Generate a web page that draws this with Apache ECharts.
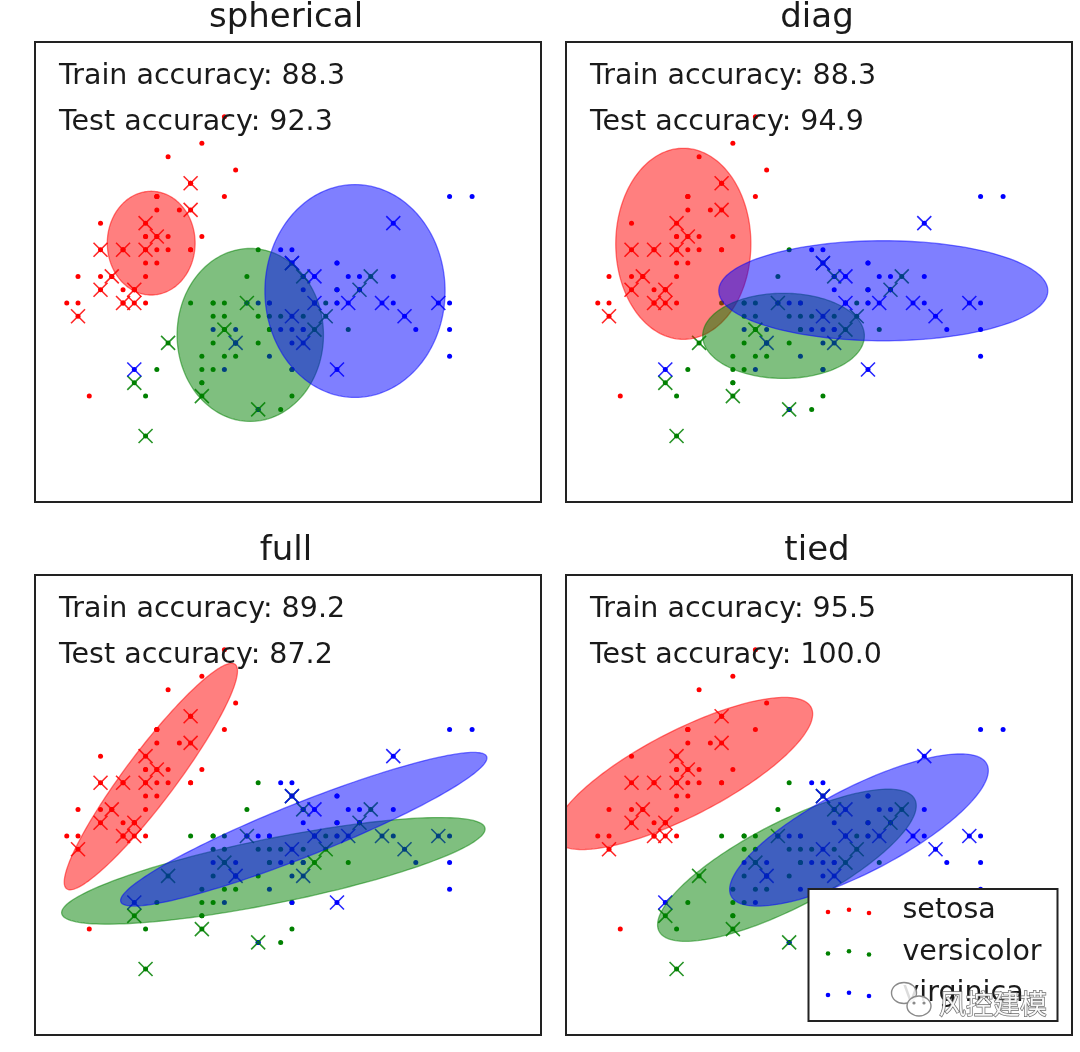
<!DOCTYPE html>
<html><head><meta charset="utf-8">
<script src="https://cdn.jsdelivr.net/npm/echarts@6/dist/echarts.min.js"></script>
<style>html,body{margin:0;padding:0;background:#fff}#chart{width:1080px;height:1052px}</style>
</head><body><div id="chart"></div>
<script>
// ---- Data (iris: sepal length, sepal width) ----
const setosa = [[5.1,3.5],[4.9,3.0],[4.7,3.2],[4.6,3.1],[5.0,3.6],[5.4,3.9],[4.6,3.4],[5.0,3.4],[4.4,2.9],[4.9,3.1],
[5.4,3.7],[4.8,3.4],[4.8,3.0],[4.3,3.0],[5.8,4.0],[5.7,4.4],[5.4,3.9],[5.1,3.5],[5.7,3.8],[5.1,3.8],
[5.4,3.4],[5.1,3.7],[4.6,3.6],[5.1,3.3],[4.8,3.4],[5.0,3.0],[5.0,3.4],[5.2,3.5],[5.2,3.4],[4.7,3.2],
[4.8,3.1],[5.4,3.4],[5.2,4.1],[5.5,4.2],[4.9,3.1],[5.0,3.2],[5.5,3.5],[4.9,3.1],[4.4,3.0],[5.1,3.4],
[5.0,3.5],[4.5,2.3],[4.4,3.2],[5.0,3.5],[5.1,3.8],[4.8,3.0],[5.1,3.8],[4.6,3.2],[5.3,3.7],[5.0,3.3]];
const versicolor = [[7.0,3.2],[6.4,3.2],[6.9,3.1],[5.5,2.3],[6.5,2.8],[5.7,2.8],[6.3,3.3],[4.9,2.4],[6.6,2.9],[5.2,2.7],
[5.0,2.0],[5.9,3.0],[6.0,2.2],[6.1,2.9],[5.6,2.9],[6.7,3.1],[5.6,3.0],[5.8,2.7],[6.2,2.2],[5.6,2.5],
[5.9,3.2],[6.1,2.8],[6.3,2.5],[6.1,2.8],[6.4,2.9],[6.6,3.0],[6.8,2.8],[6.7,3.0],[6.0,2.9],[5.7,2.6],
[5.5,2.4],[5.5,2.4],[5.8,2.7],[6.0,2.7],[5.4,3.0],[6.0,3.4],[6.7,3.1],[6.3,2.3],[5.6,3.0],[5.5,2.5],
[5.5,2.6],[6.1,3.0],[5.8,2.6],[5.0,2.3],[5.6,2.7],[5.7,3.0],[5.7,2.9],[6.2,2.9],[5.1,2.5],[5.7,2.8]];
const virginica = [[6.3,3.3],[5.8,2.7],[7.1,3.0],[6.3,2.9],[6.5,3.0],[7.6,3.0],[4.9,2.5],[7.3,2.9],[6.7,2.5],[7.2,3.6],
[6.5,3.2],[6.4,2.7],[6.8,3.0],[5.7,2.5],[5.8,2.8],[6.4,3.2],[6.5,3.0],[7.7,3.8],[7.7,2.6],[6.0,2.2],
[6.9,3.2],[5.6,2.8],[7.7,2.8],[6.3,2.7],[6.7,3.3],[7.2,3.2],[6.2,2.8],[6.1,3.0],[6.4,2.8],[7.2,3.0],
[7.4,2.8],[7.9,3.8],[6.4,2.8],[6.3,2.8],[6.1,2.6],[7.7,3.0],[6.3,3.4],[6.4,3.1],[6.0,3.0],[6.9,3.1],
[6.7,3.1],[6.9,3.1],[5.8,2.7],[6.8,3.2],[6.7,3.3],[6.7,3.0],[6.3,2.5],[6.5,3.0],[6.2,3.4],[5.9,3.0]];
// test fold = first 13 samples of each class (drawn with crosses)
const setosaTest = setosa.slice(0, 13);
const versicolorTest = versicolor.slice(0, 13);
const virginicaTest = virginica.slice(0, 13);

const classNames = ['setosa', 'versicolor', 'virginica'];
const panelTitles = ['spherical', 'diag', 'full', 'tied'];
const trainAccuracy = [88.3, 88.3, 89.2, 95.5];
const testAccuracy = [92.3, 94.9, 87.2, 100.0];

// Gaussian ellipses: [centerX, centerY, semiAxisA, semiAxisB, angleDeg, classIndex]
const sphericalEllipses = [[5.05,3.45,0.39,0.39,0,0],[5.93,2.76,0.65,0.65,0,1],[6.86,3.09,0.80,0.80,0,2]];
const diagEllipses = [[5.06,3.445,0.60,0.718,0,0],[5.95,2.753,0.718,0.32,0,1],[6.836,3.092,1.461,0.376,0,2]];
const fullEllipses = [[5.047,3.447,1.128,0.21,48.1,0],[6.135,2.738,1.907,0.245,9.65,1],[6.405,3.051,1.714,0.205,18.5,2]];
const tiedEllipses = [[5.06,3.47,1.24,0.33,23,0],[5.98,2.78,1.24,0.33,23,1],[6.62,3.045,1.24,0.33,23,2]];

const xRange = [4.018, 8.512];
const yRange = [1.504, 4.962];

// ---- Styling / layout ----
const colors = ['#ff0000', '#008000', '#0000ff'];
const fills = ['rgba(255,0,0,0.5)', 'rgba(0,128,0,0.5)', 'rgba(0,0,255,0.5)'];
const FONT = 'DejaVu Sans';
const TXT = '#1a1a1a';
const panelLeft = [35, 566, 35, 566];
const panelTop = [42, 42, 575, 575];
const PW = 506, PH = 460;

const allData = [setosa, versicolor, virginica];
const testData = [setosaTest, versicolorTest, virginicaTest];
const ellipseSets = [sphericalEllipses, diagEllipses, fullEllipses, tiedEllipses];

function renderEllipse(params, api) {
  const cx = api.value(0), cy = api.value(1), a = api.value(2), b = api.value(3);
  const ang = api.value(4) * Math.PI / 180, k = api.value(5);
  const pts = [];
  const N = 180;
  for (let i = 0; i < N; i++) {
    const t = i / N * 2 * Math.PI;
    const dx = a * Math.cos(t), dy = b * Math.sin(t);
    pts.push(api.coord([cx + dx * Math.cos(ang) - dy * Math.sin(ang), cy + dx * Math.sin(ang) + dy * Math.cos(ang)]));
  }
  const cs = params.coordSys;
  return {
    type: 'polygon',
    shape: { points: pts },
    style: { fill: fills[k], stroke: fills[k], lineWidth: 1.3 },
    clipPath: { type: 'rect', shape: { x: cs.x + 1, y: cs.y + 1, width: cs.width - 2, height: cs.height - 2 } }
  };
}

const grid = [], xAxis = [], yAxis = [], series = [], graphic = [];
for (let p = 0; p < 4; p++) {
  grid.push({ left: panelLeft[p], top: panelTop[p], width: PW, height: PH, show: true,
    borderColor: '#222', borderWidth: 2, backgroundColor: '#fff' });
  xAxis.push({ gridIndex: p, type: 'value', min: xRange[0], max: xRange[1], show: false });
  yAxis.push({ gridIndex: p, type: 'value', min: yRange[0], max: yRange[1], show: false });
  for (let c = 0; c < 3; c++) {
    series.push({ type: 'scatter', name: classNames[c], xAxisIndex: p, yAxisIndex: p, data: allData[c],
      symbol: 'circle', symbolSize: 5, itemStyle: { color: colors[c], opacity: 1 }, z: 2, silent: true });
  }
  for (let c = 0; c < 3; c++) {
    series.push({ type: 'scatter', name: classNames[c] + ' test', xAxisIndex: p, yAxisIndex: p, data: testData[c],
      symbol: 'path://M0,0L10,10M10,0L0,10', symbolSize: 14,
      itemStyle: { color: 'rgba(0,0,0,0)', borderColor: colors[c], borderWidth: 1.6, opacity: 0.85 }, z: 3, silent: true });
  }
  series.push({ type: 'custom', name: panelTitles[p] + ' ellipses', xAxisIndex: p, yAxisIndex: p,
    data: ellipseSets[p], encode: { x: 0, y: 1 }, renderItem: renderEllipse, z: 4, silent: true });

  // titles
  graphic.push({ type: 'text', x: panelLeft[p] + PW / 2 - 2, y: panelTop[p] - 24, z: 10,
    style: { text: panelTitles[p], font: '34px "' + FONT + '"', fill: TXT, align: 'center', verticalAlign: 'middle' } });
  // accuracy texts
  graphic.push({ type: 'text', x: panelLeft[p] + 24, y: panelTop[p] + 35, z: 10,
    style: { text: 'Train accuracy: ' + trainAccuracy[p].toFixed(1), font: '28.5px "' + FONT + '"', fill: TXT, align: 'left', verticalAlign: 'middle' } });
  graphic.push({ type: 'text', x: panelLeft[p] + 24, y: panelTop[p] + 81, z: 10,
    style: { text: 'Test accuracy: ' + testAccuracy[p].toFixed(1), font: '28.5px "' + FONT + '"', fill: TXT, align: 'left', verticalAlign: 'middle' } });
}

// legend (lower right of last panel)
const legRows = [912, 953.5, 995];
const dotX = [828, 849, 869], dotDy = [0, -2.3, 1];
graphic.push({ type: 'rect', shape: { x: 808.5, y: 889, width: 249, height: 132 }, z: 20,
  style: { fill: '#fff', stroke: '#222', lineWidth: 2 } });
for (let c = 0; c < 3; c++) {
  for (let d = 0; d < 3; d++) {
    graphic.push({ type: 'circle', shape: { cx: dotX[d], cy: legRows[c] + dotDy[d], r: 2.3 }, z: 21, style: { fill: colors[c] } });
  }
  graphic.push({ type: 'text', x: 902.5, y: legRows[c] - 1, z: 21,
    style: { text: classNames[c], font: '28.5px "' + FONT + '"', fill: TXT, align: 'left', verticalAlign: 'middle' } });
}
// watermark
graphic.push({ type: 'ellipse', shape: { cx: 904, cy: 993, rx: 12.5, ry: 10.5 }, z: 30,
  style: { fill: 'rgba(255,255,255,0.85)', stroke: '#8a8a8a', lineWidth: 1.4 } });
graphic.push({ type: 'ellipse', shape: { cx: 919, cy: 1006, rx: 12, ry: 10 }, z: 31,
  style: { fill: 'rgba(255,255,255,0.9)', stroke: '#8a8a8a', lineWidth: 1.4 } });
graphic.push({ type: 'circle', shape: { cx: 914, cy: 1003, r: 1.6 }, z: 32, style: { fill: '#8a8a8a' } });
graphic.push({ type: 'circle', shape: { cx: 924, cy: 1003, r: 1.6 }, z: 32, style: { fill: '#8a8a8a' } });
graphic.push({ type: 'text', x: 939, y: 1004, z: 32,
  style: { text: '风控建模', font: '27px "Noto Sans CJK SC"', fill: 'rgba(255,255,255,0.92)', stroke: '#6e6e6e', lineWidth: 1.4,
    align: 'left', verticalAlign: 'middle' } });

const chart = echarts.init(document.getElementById('chart'), null, { renderer: 'canvas' });
chart.setOption({
  backgroundColor: '#ffffff',
  animation: false,
  grid, xAxis, yAxis, series, graphic
});
</script></body></html>
